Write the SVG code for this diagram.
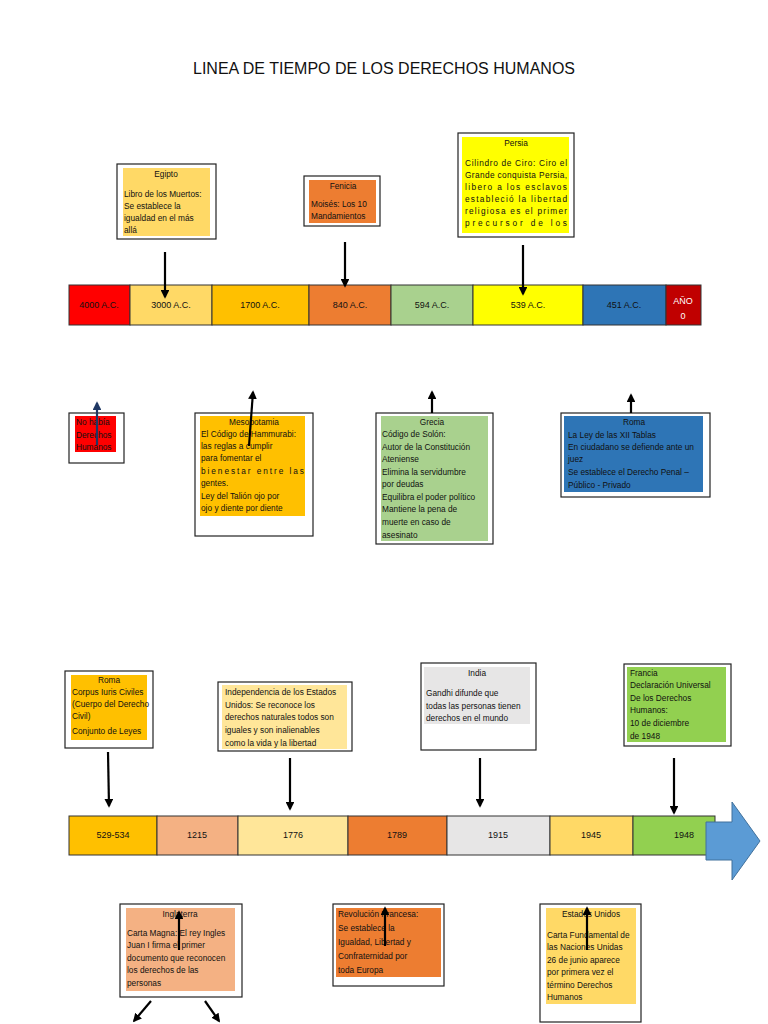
<svg xmlns="http://www.w3.org/2000/svg" width="768" height="1024" viewBox="0 0 768 1024">
<style>
text{font-family:"Liberation Sans",Arial,sans-serif;fill:#111}
.t{font-size:8.3px}
.c{text-anchor:middle}
.seg{font-size:9px;text-anchor:middle}
.o{fill:#fff;stroke:#222;stroke-width:1.2}
.bar{stroke:#333;stroke-width:1}
.ar{stroke:#000;stroke-width:2.2;fill:none;marker-end:url(#ah)}
</style>
<defs>
<marker id="ah" viewBox="0 0 10 10" refX="8" refY="5" markerWidth="4" markerHeight="4" orient="auto"><path d="M0,0L10,5L0,10z" fill="#000"/></marker>
<marker id="ahb" viewBox="0 0 10 10" refX="8" refY="5" markerWidth="4" markerHeight="4" orient="auto"><path d="M0,0L10,5L0,10z" fill="#1F3864"/></marker>
</defs>
<rect width="768" height="1024" fill="#fff"/>
<text x="384" y="74" class="c" style="font-size:16px">LINEA DE TIEMPO DE LOS DERECHOS HUMANOS</text>

<g id="timeline1">
<rect class="bar" x="69" y="285" width="61" height="40" fill="#FF0000"/><text class="seg" x="99" y="308">4000 A.C.</text>
<rect class="bar" x="130" y="285" width="82" height="40" fill="#FFD966"/><text class="seg" x="171" y="308">3000 A.C.</text>
<rect class="bar" x="212" y="285" width="97" height="40" fill="#FFC000"/><text class="seg" x="260" y="308">1700 A.C.</text>
<rect class="bar" x="309" y="285" width="82" height="40" fill="#ED7D31"/><text class="seg" x="350" y="308">840 A.C.</text>
<rect class="bar" x="391" y="285" width="82" height="40" fill="#A9D18E"/><text class="seg" x="432" y="308">594 A.C.</text>
<rect class="bar" x="473" y="285" width="110" height="40" fill="#FFFF00"/><text class="seg" x="528" y="308">539 A.C.</text>
<rect class="bar" x="583" y="285" width="83" height="40" fill="#2E75B6"/><text class="seg" x="624" y="308">451 A.C.</text>
<rect class="bar" x="666" y="285" width="35" height="40" fill="#C00000"/><text class="seg" x="683" y="304" style="fill:#fff">AÑO</text><text class="seg" x="683" y="319" style="fill:#fff">0</text>
</g>

<g id="egipto">
<rect class="o" x="117" y="164" width="99" height="75"/><rect x="123" y="168" width="87" height="68" fill="#FFD966"/>
<text class="t c" x="166" y="177">Egipto</text>
<text class="t" x="124" y="197">Libro de los Muertos:</text><text class="t" x="124" y="209">Se establece la</text><text class="t" x="124" y="221">igualdad en el más</text><text class="t" x="124" y="233">allá</text>
</g>
<g id="fenicia">
<rect class="o" x="304" y="176" width="76" height="50"/><rect x="309" y="180" width="67" height="43" fill="#ED7D31"/>
<text class="t c" x="343" y="189">Fenicia</text>
<text class="t" x="311" y="207">Moisés: Los 10</text><text class="t" x="311" y="219">Mandamientos</text>
</g>
<g id="persia">
<rect class="o" x="458" y="133" width="116" height="104"/><rect x="462" y="137" width="107" height="96" fill="#FFFF00"/>
<text class="t c" x="516" y="146">Persia</text>
<text class="t" x="465" y="166" textLength="102" lengthAdjust="spacing">Cilindro de Ciro: Ciro el</text>
<text class="t" x="465" y="178" textLength="102" lengthAdjust="spacing">Grande conquista Persia,</text>
<text class="t" x="465" y="190" textLength="102" lengthAdjust="spacing">libero a los esclavos</text>
<text class="t" x="465" y="202" textLength="102" lengthAdjust="spacing">estableció la libertad</text>
<text class="t" x="465" y="214" textLength="102" lengthAdjust="spacing">religiosa es el primer</text>
<text class="t" x="465" y="226" textLength="102" lengthAdjust="spacing">precursor de los</text>
</g>

<g id="nohabia">
<rect class="o" x="69" y="413" width="55" height="50"/><rect x="75" y="416" width="41" height="36" fill="#FF0000"/>
<text class="t" x="76" y="425">No había</text><text class="t" x="76" y="438">Derechos</text><text class="t" x="76" y="450">Humanos</text>
</g>
<g id="mesopotamia">
<rect class="o" x="195" y="413" width="118" height="123"/><rect x="200" y="416" width="105" height="100" fill="#FFC000"/>
<text class="t c" x="254" y="425">Mesopotamia</text>
<text class="t" x="201" y="437">El Código de Hammurabi:</text><text class="t" x="201" y="449">las reglas a cumplir</text><text class="t" x="201" y="461">para fomentar el</text>
<text class="t" x="201" y="474" textLength="103" lengthAdjust="spacing">bienestar entre las</text>
<text class="t" x="201" y="486">gentes.</text><text class="t" x="201" y="499">Ley del Talión ojo por</text><text class="t" x="201" y="511">ojo y diente por diente</text>
</g>
<g id="grecia">
<rect class="o" x="376" y="413" width="117" height="131"/><rect x="381" y="416" width="107" height="125" fill="#A9D18E"/>
<text class="t c" x="432" y="425">Grecia</text>
<text class="t" x="382" y="437">Código de Solón:</text><text class="t" x="382" y="450">Autor de la Constitución</text><text class="t" x="382" y="462">Ateniense</text>
<text class="t" x="382" y="475">Elimina la servidumbre</text><text class="t" x="382" y="487">por deudas</text><text class="t" x="382" y="500">Equilibra el poder político</text>
<text class="t" x="382" y="512">Mantiene la pena de</text><text class="t" x="382" y="525">muerte en caso de</text><text class="t" x="382" y="538">asesinato</text>
</g>
<g id="roma1">
<rect class="o" x="561" y="413" width="149" height="84"/><rect x="564" y="416" width="139" height="76" fill="#2E75B6"/>
<text class="t c" x="634" y="425">Roma</text>
<text class="t" x="568" y="438">La Ley de las XII Tablas</text><text class="t" x="568" y="450">En ciudadano se defiende ante un</text><text class="t" x="568" y="462">juez</text>
<text class="t" x="568" y="475">Se establece el Derecho Penal –</text><text class="t" x="568" y="488">Público - Privado</text>
</g>

<g id="timeline2">
<rect class="bar" x="69" y="816" width="88" height="39" fill="#FFC000"/><text class="seg" x="113" y="838">529-534</text>
<rect class="bar" x="157" y="816" width="81" height="39" fill="#F4B183"/><text class="seg" x="197" y="838">1215</text>
<rect class="bar" x="238" y="816" width="110" height="39" fill="#FFE699"/><text class="seg" x="293" y="838">1776</text>
<rect class="bar" x="348" y="816" width="99" height="39" fill="#ED7D31"/><text class="seg" x="397" y="838">1789</text>
<rect class="bar" x="447" y="816" width="103" height="39" fill="#E7E6E6"/><text class="seg" x="498" y="838">1915</text>
<rect class="bar" x="550" y="816" width="83" height="39" fill="#FFD966"/><text class="seg" x="591" y="838">1945</text>
<rect class="bar" x="633" y="816" width="82" height="39" fill="#92D050"/><text class="seg" x="684" y="838">1948</text>
<polygon points="706,822 732,822 732,802 760,841 732,880 732,860 706,860" fill="#5B9BD5" stroke="#41719C" stroke-width="1"/>
</g>

<g id="roma2">
<rect class="o" x="65" y="671" width="88" height="77"/><rect x="71" y="675" width="76" height="65" fill="#FFC000"/>
<text class="t c" x="109" y="683">Roma</text>
<text class="t" x="72" y="695">Corpus Iuris Civiles</text><text class="t" x="72" y="707">(Cuerpo del Derecho</text><text class="t" x="72" y="719">Civil)</text><text class="t" x="72" y="734">Conjunto de Leyes</text>
</g>
<g id="independencia">
<rect class="o" x="218" y="682" width="134" height="69"/><rect x="222" y="685" width="125" height="64" fill="#FFE699"/>
<text class="t" x="225" y="695">Independencia de los Estados</text><text class="t" x="225" y="708">Unidos: Se reconoce los</text><text class="t" x="225" y="720">derechos naturales todos son</text>
<text class="t" x="225" y="733">iguales y son inalienables</text><text class="t" x="225" y="746">como la vida y la libertad</text>
</g>
<g id="india">
<rect class="o" x="421" y="663" width="115" height="87"/><rect x="424" y="667" width="106" height="57" fill="#E7E6E6"/>
<text class="t c" x="477" y="676">India</text>
<text class="t" x="426" y="696">Gandhi difunde que</text><text class="t" x="426" y="709">todas las personas tienen</text><text class="t" x="426" y="721">derechos en el mundo</text>
</g>
<g id="francia">
<rect class="o" x="624" y="664" width="107" height="82"/><rect x="627" y="667" width="99" height="75" fill="#92D050"/>
<text class="t" x="630" y="676">Francia</text><text class="t" x="630" y="688">Declaración Universal</text><text class="t" x="630" y="701">De los Derechos</text>
<text class="t" x="630" y="713">Humanos:</text><text class="t" x="630" y="726">10 de diciembre</text><text class="t" x="630" y="739">de 1948</text>
</g>

<g id="inglaterra">
<rect class="o" x="120" y="904" width="122" height="93"/><rect x="126" y="908" width="109" height="83" fill="#F4B183"/>
<text class="t c" x="180" y="917">Inglaterra</text>
<text class="t" x="127" y="936">Carta Magna: El rey Ingles</text><text class="t" x="127" y="948">Juan I firma el primer</text><text class="t" x="127" y="961">documento que reconocen</text>
<text class="t" x="127" y="973">los derechos de las</text><text class="t" x="127" y="986">personas</text>
</g>
<g id="revolucion">
<rect class="o" x="333" y="904" width="111" height="82"/><rect x="336" y="908" width="105" height="69" fill="#ED7D31"/>
<text class="t" x="338" y="917">Revolución Francesa:</text><text class="t" x="338" y="931">Se establece la</text><text class="t" x="338" y="945">Igualdad, Libertad y</text>
<text class="t" x="338" y="959">Confraternidad por</text><text class="t" x="338" y="973">toda Europa</text>
</g>
<g id="eeuu">
<rect class="o" x="540" y="904" width="101" height="118"/><rect x="546" y="908" width="90" height="96" fill="#FFD966"/>
<text class="t c" x="591" y="917">Estados Unidos</text>
<text class="t" x="547" y="938">Carta Fundamental de</text><text class="t" x="547" y="950">las Naciones Unidas</text><text class="t" x="547" y="963">26 de junio aparece</text>
<text class="t" x="547" y="975">por primera vez el</text><text class="t" x="547" y="988">término Derechos</text><text class="t" x="547" y="1000">Humanos</text>
</g>

<g id="connectors">
<line class="ar" x1="165" y1="252" x2="165" y2="297"/>
<line class="ar" x1="345" y1="242" x2="345" y2="286"/>
<line class="ar" x1="523" y1="245" x2="523" y2="294"/>
<line x1="97" y1="445" x2="97" y2="403" stroke="#1F3864" stroke-width="2.2" marker-end="url(#ahb)"/>
<line class="ar" x1="249" y1="446" x2="253" y2="392"/>
<line class="ar" x1="432" y1="413" x2="432" y2="392"/>
<line class="ar" x1="631" y1="413" x2="631" y2="395"/>
<line class="ar" x1="108" y1="752" x2="109" y2="806"/>
<line class="ar" x1="290" y1="758" x2="290" y2="809"/>
<line class="ar" x1="480" y1="758" x2="480" y2="806"/>
<line class="ar" x1="674" y1="758" x2="674" y2="813"/>
<line class="ar" x1="179" y1="950" x2="179" y2="912"/>
<line class="ar" x1="385" y1="946" x2="385" y2="908"/>
<line class="ar" x1="587" y1="950" x2="587" y2="908"/>
<line class="ar" x1="151" y1="1001" x2="134" y2="1021"/>
<line class="ar" x1="205" y1="1001" x2="219" y2="1021"/>
</g>
</svg>
